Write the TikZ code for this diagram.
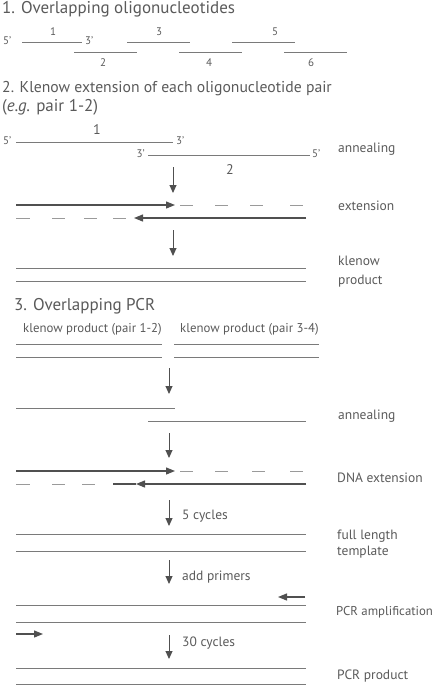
\documentclass[tikz,border=0pt]{standalone}
\usepackage{fontspec}
\setmainfont{PT Sans}
\usetikzlibrary{arrows.meta}
\definecolor{txtgray}{HTML}{5A5A5A}
\definecolor{linegray}{HTML}{7A7A7A}
\definecolor{dashgray}{HTML}{9A9A9A}
\definecolor{arrgray}{HTML}{505050}
\begin{document}
\begin{tikzpicture}[x=1pt,y=-1pt,
  strand/.style={draw=linegray, line width=0.9pt},
  ext/.style={draw=arrgray, line width=1.2pt},
  dsh/.style={draw=dashgray, line width=0.9pt},
  head/.style={-{Triangle[length=9pt,width=7pt]}},
  downarrow/.style={draw=arrgray, line width=1pt, -{Triangle[length=8pt,width=7pt]}},
  title/.style={text=txtgray, font=\fontsize{17}{19}\selectfont, anchor=base west, inner sep=0pt},
  lab/.style={text=txtgray, font=\fontsize{13.5}{15}\selectfont, anchor=mid west, inner sep=0pt},
  small/.style={text=txtgray, font=\fontsize{11}{13}\selectfont, inner sep=0pt},
  num/.style={text=txtgray, font=\fontsize{14}{16}\selectfont, inner sep=0pt}
]
\useasboundingbox (0,0) rectangle (435,686);
% ---------- Section 1
\node[title] (t1) at (2,13) {1. Overlapping oligonucleotides};
\coordinate (o1a) at (22,42);  \coordinate (o1b) at (82,42);
\coordinate (o3a) at (127,42); \coordinate (o3b) at (190,42);
\coordinate (o5a) at (232,42); \coordinate (o5b) at (295,42);
\coordinate (o2a) at (74,52);  \coordinate (o2b) at (137,52);
\coordinate (o4a) at (179,52); \coordinate (o4b) at (242,52);
\coordinate (o6a) at (284,52); \coordinate (o6b) at (347,52);
\draw[strand] (o1a) -- (o1b);
\draw[strand] (o3a) -- (o3b);
\draw[strand] (o5a) -- (o5b);
\draw[strand] (o2a) -- (o2b);
\draw[strand] (o4a) -- (o4b);
\draw[strand] (o6a) -- (o6b);
\node[small, anchor=west] (s1l) at (3,41) {5’};
\node[small, anchor=west] (s1r) at (85,41) {3’};
\node[small] (n1) at (53,32) {1};
\node[small] (n3) at (159,32) {3};
\node[small] (n5) at (275,32) {5};
\node[small] (n2) at (103,63) {2};
\node[small] (n4) at (209,63) {4};
\node[small] (n6) at (311,63) {6};
% ---------- Section 2
\node[title, font=\fontsize{15.7}{18}\selectfont] (t2a) at (2,92) {2. Klenow extension of each oligonucleotide pair};
\node[title] (t2b) at (2,111) {(\textit{e.g.} pair 1-2)};
\coordinate (a1a) at (16,142); \coordinate (a1b) at (173,142);
\coordinate (a2a) at (148,155); \coordinate (a2b) at (310,155);
\draw[strand] (a1a) -- (a1b);
\draw[strand] (a2a) -- (a2b);
\node[small, anchor=west] (p5l) at (3,141) {5’};
\node[small, anchor=west] (p3r) at (176,141) {3’};
\node[small, anchor=east] (p3l) at (145,154) {3’};
\node[small, anchor=west] (p5r) at (312,154) {5’};
\node[num] (m1) at (97,130) {1};
\node[num] (m2) at (230,170) {2};
\node[lab] (lann1) at (338,150) {annealing};
\coordinate (d1a) at (173,167); \coordinate (d1b) at (173,193);
\draw[downarrow] (d1a) -- (d1b);
% extension
\coordinate (e1a) at (16,205); \coordinate (e1b) at (175,205);
\draw[ext, head] (e1a) -- (e1b);
\foreach \xa/\xb in {180/193, 215/228, 250/263, 290/303}
  \draw[dsh] (\xa,205) -- (\xb,205);
\coordinate (e2a) at (306,218); \coordinate (e2b) at (134,218);
\draw[ext, head] (e2a) -- (e2b);
\foreach \xa/\xb in {16/30, 52/65, 84/97, 113/126}
  \draw[dsh] (\xa,218) -- (\xb,218);
\node[lab] (lext) at (338,208) {extension};
\coordinate (d2a) at (173,230); \coordinate (d2b) at (173,256);
\draw[downarrow] (d2a) -- (d2b);
\coordinate (k1a) at (16,268); \coordinate (k1b) at (306,268);
\coordinate (k2a) at (16,281); \coordinate (k2b) at (306,281);
\draw[strand] (k1a) -- (k1b);
\draw[strand] (k2a) -- (k2b);
\node[lab] (lkl) at (338,263) {klenow};
\node[lab] (lkp) at (338,282) {product};
% ---------- Section 3
\node[title] (t3) at (14,310) {3. Overlapping PCR};
\node[lab, font=\fontsize{12.8}{14}\selectfont] (kp12) at (23,330) {klenow product (pair 1-2)};
\node[lab, font=\fontsize{12.8}{14}\selectfont] (kp34) at (180,330) {klenow product (pair 3-4)};
\coordinate (q1a) at (16,344); \coordinate (q1b) at (162,344);
\coordinate (q2a) at (16,357); \coordinate (q2b) at (162,357);
\coordinate (q3a) at (174,344); \coordinate (q3b) at (319,344);
\coordinate (q4a) at (174,357); \coordinate (q4b) at (319,357);
\draw[strand] (q1a) -- (q1b);
\draw[strand] (q2a) -- (q2b);
\draw[strand] (q3a) -- (q3b);
\draw[strand] (q4a) -- (q4b);
\coordinate (d3a) at (169,368); \coordinate (d3b) at (169,394);
\draw[downarrow] (d3a) -- (d3b);
\coordinate (r1a) at (16,408); \coordinate (r1b) at (175,408);
\coordinate (r2a) at (148,421); \coordinate (r2b) at (306,421);
\draw[strand] (r1a) -- (r1b);
\draw[strand] (r2a) -- (r2b);
\node[lab] (lann2) at (338,417) {annealing};
\coordinate (d4a) at (169,433); \coordinate (d4b) at (169,458);
\draw[downarrow] (d4a) -- (d4b);
% DNA extension
\coordinate (x1a) at (16,471); \coordinate (x1b) at (175,471);
\draw[ext, head] (x1a) -- (x1b);
\foreach \xa/\xb in {180/193, 215/228, 252/265, 290/303}
  \draw[dsh] (\xa,471) -- (\xb,471);
\coordinate (x2a) at (306,484); \coordinate (x2b) at (136,484);
\coordinate (x2e) at (113,484);
\draw[ext, head] (x2a) -- (x2b);
\draw[ext] (x2b) -- (x2e);
\foreach \xa/\xb in {16/30, 52/65, 82/95}
  \draw[dsh] (\xa,484) -- (\xb,484);
\node[lab] (ldna) at (337,480) {DNA extension};
\coordinate (d5a) at (169,500); \coordinate (d5b) at (169,526);
\draw[downarrow] (d5a) -- (d5b);
\node[lab] (l5c) at (182,517) {5 cycles};
\coordinate (f1a) at (16,534); \coordinate (f1b) at (306,534);
\coordinate (f2a) at (16,551); \coordinate (f2b) at (306,551);
\draw[strand] (f1a) -- (f1b);
\draw[strand] (f2a) -- (f2b);
\node[lab] (lfl) at (337,537) {full length};
\node[lab] (ltp) at (337,553) {template};
\coordinate (d6a) at (169,560); \coordinate (d6b) at (169,584);
\draw[downarrow] (d6a) -- (d6b);
\node[lab] (lap) at (182,578) {add primers};
% PCR amplification
\coordinate (pr1a) at (305,597); \coordinate (pr1b) at (278,597);
\draw[ext, head] (pr1a) -- (pr1b);
\coordinate (g1a) at (16,605); \coordinate (g1b) at (306,605);
\coordinate (g2a) at (16,622); \coordinate (g2b) at (306,622);
\draw[strand] (g1a) -- (g1b);
\draw[strand] (g2a) -- (g2b);
\coordinate (pr2a) at (16,634); \coordinate (pr2b) at (43,634);
\draw[ext, head] (pr2a) -- (pr2b);
\node[lab, font=\fontsize{12.8}{14}\selectfont] (lpa) at (336,613) {PCR amplification};
\coordinate (d7a) at (169,635); \coordinate (d7b) at (169,659);
\draw[downarrow] (d7a) -- (d7b);
\node[lab] (l30) at (182,644) {30 cycles};
\coordinate (h1a) at (16,668); \coordinate (h1b) at (306,668);
\coordinate (h2a) at (16,684); \coordinate (h2b) at (306,684);
\draw[strand] (h1a) -- (h1b);
\draw[strand] (h2a) -- (h2b);
\node[lab] (lpp) at (337,677) {PCR product};
\end{tikzpicture}
\end{document}
